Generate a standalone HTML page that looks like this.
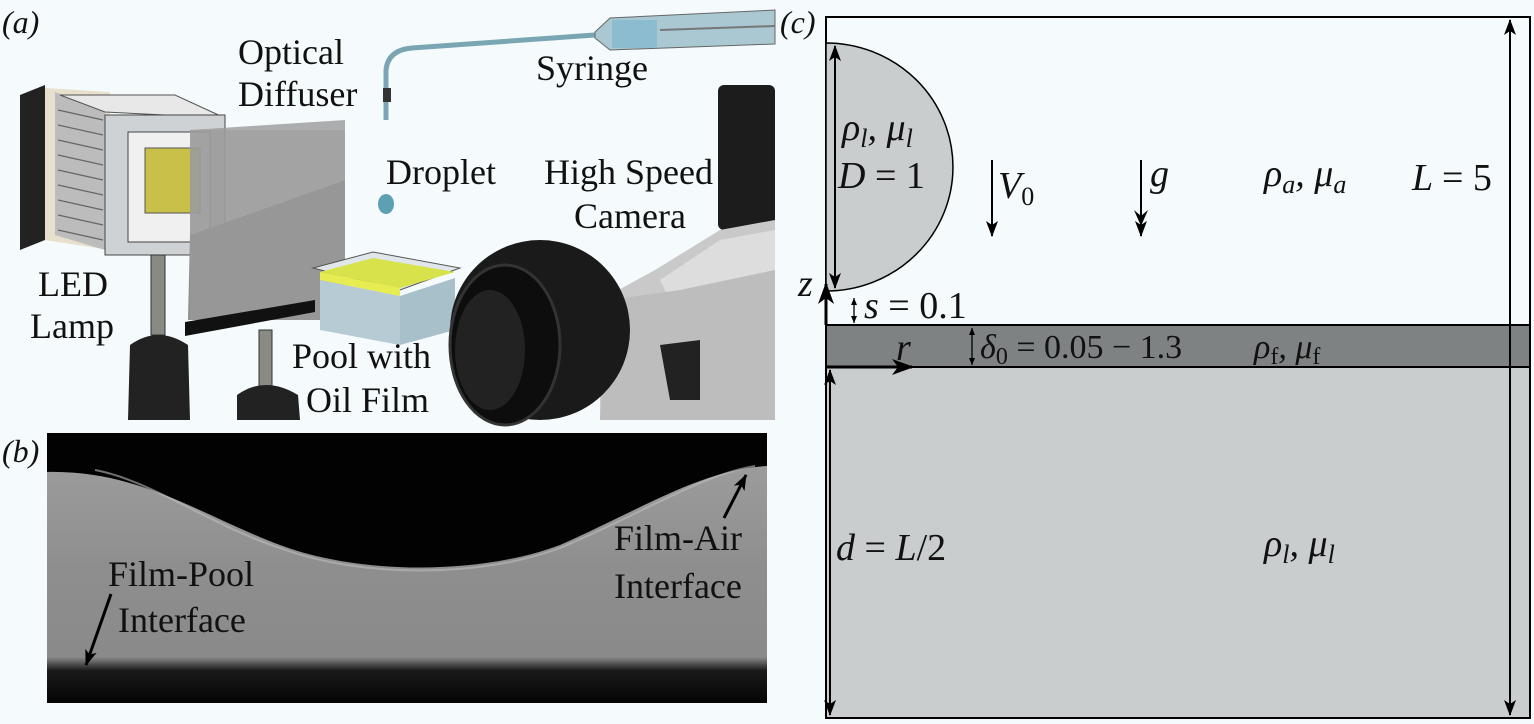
<!DOCTYPE html>
<html><head><meta charset="utf-8"><style>
html,body{margin:0;padding:0;background:#f5fbfc;}
svg{display:block;}
text{font-family:"Liberation Serif",serif;fill:#111;}
</style></head><body>
<svg width="1534" height="724" viewBox="0 0 1534 724" xmlns="http://www.w3.org/2000/svg">
<defs>
<marker id="ahb" markerWidth="22" markerHeight="16" refX="20" refY="8" orient="auto" markerUnits="userSpaceOnUse"><path d="M0,0 L22,8 L0,16 L6,8 Z" fill="#000"/></marker>
<marker id="ahs" markerWidth="16" markerHeight="12" refX="15" refY="6" orient="auto-start-reverse" markerUnits="userSpaceOnUse"><path d="M0,0 L16,6 L0,12 L4,6 Z" fill="#000"/></marker>
<marker id="aht" markerWidth="7" markerHeight="6" refX="7" refY="3" orient="auto-start-reverse" markerUnits="userSpaceOnUse"><path d="M0,0 L7,3 L0,6 Z" fill="#000"/></marker>
<linearGradient id="pg" x1="0" y1="0" x2="0" y2="1">
<stop offset="0" stop-color="#a0a0a0"/><stop offset="0.5" stop-color="#8e8e8e"/><stop offset="0.83" stop-color="#8a8a8a"/><stop offset="0.88" stop-color="#1a1a1a"/><stop offset="1" stop-color="#050505"/></linearGradient>
</defs>

<!-- Panel a -->
<text x="2" y="33" font-size="32" font-style="italic">(a)</text>
<polygon points="20,95 45,85 45,240 20,250" fill="#222"/>
<polygon points="45,88 110,92 110,250 45,240" fill="#e6e0cc"/>
<polygon points="55,92 105,110 105,250 55,235" fill="#bcbcbc"/>
<g stroke="#666" stroke-width="1.2">
<line x1="58" y1="110" x2="103" y2="120"/><line x1="58" y1="125" x2="103" y2="135"/><line x1="58" y1="140" x2="103" y2="150"/><line x1="58" y1="155" x2="103" y2="165"/><line x1="58" y1="170" x2="103" y2="180"/><line x1="58" y1="185" x2="103" y2="195"/><line x1="58" y1="200" x2="103" y2="210"/><line x1="58" y1="215" x2="103" y2="225"/><line x1="58" y1="230" x2="103" y2="240"/></g>
<polygon points="60,95 175,95 225,118 105,112" fill="#e8e8e8" stroke="#555" stroke-width="1"/>
<rect x="105" y="115" width="120" height="140" fill="#cfd2d4" stroke="#444" stroke-width="1"/>
<rect x="128" y="132" width="82" height="110" fill="#f0f0f0" stroke="#444" stroke-width="1"/>
<rect x="145" y="148" width="55" height="65" fill="#c9c04a" stroke="#555"/>
<rect x="151" y="255" width="14" height="80" fill="#8a8a84" stroke="#333"/>
<path d="M130,345 Q158,325 188,345 L190,420 L128,420 Z" fill="#222"/>
<polygon points="190,235 345,180 345,320 188,320" fill="#8e8e8e"/>
<polygon points="190,235 345,180 345,120 190,130" fill="#9a9a9a" opacity="0.8"/>
<rect x="190" y="130" width="155" height="190" fill="#9c9c9c" opacity="0.6"/>
<polygon points="185,322 315,300 315,312 185,336" fill="#111"/>
<rect x="259" y="330" width="13" height="60" fill="#8a8a84" stroke="#333"/>
<path d="M237,395 Q265,375 298,395 L300,420 L237,420 Z" fill="#222"/>
<path d="M386,120 L386,70 Q388,50 412,48 L595,35" stroke="#7aa6b4" stroke-width="5" fill="none"/>
<rect x="383" y="88" width="8" height="14" fill="#333"/>
<polygon points="595,32 610,18 775,10 775,44 610,50 595,38" fill="#a9c8d2" stroke="#666"/>
<rect x="612" y="20" width="45" height="28" fill="#8cbcd0"/>
<line x1="660" y1="30" x2="775" y2="26" stroke="#777" stroke-width="2"/>
<ellipse cx="386" cy="204" rx="8" ry="10" fill="#5d9fb3"/>
<polygon points="313,268 373,252 460,268 400,290" fill="#e0e6ea" stroke="#555"/>
<polygon points="320,272 373,258 455,272 400,288" fill="#d8e24a"/>
<polygon points="320,280 400,296 400,345 320,330" fill="#b6cbd3"/>
<polygon points="400,296 455,278 455,330 400,345" fill="#a8c0ca"/>
<polygon points="320,272 400,288 400,296 320,280" fill="#e7ec50"/>
<rect x="718" y="85" width="57" height="145" rx="6" fill="#1c1c1c"/>
<polygon points="655,270 720,230 775,220 775,420 600,420 600,300" fill="#c9c9c9"/>
<polygon points="660,280 720,240 775,230 775,290 680,320" fill="#ddd"/>
<polygon points="610,300 680,290 775,270 775,420 600,420" fill="#bdbdbd"/>
<path d="M660,345 L700,340 L700,400 L670,400 Z" fill="#222"/>
<circle cx="540" cy="330" r="90" fill="#1a1a1a"/>
<ellipse cx="505" cy="345" rx="55" ry="80" fill="#0d0d0d" stroke="#333" stroke-width="3"/>
<ellipse cx="490" cy="350" rx="35" ry="60" fill="#222"/>
<g font-size="36">
<text x="238" y="64">Optical</text>
<text x="238" y="106">Diffuser</text>
<text x="536" y="80">Syringe</text>
<text x="386" y="184">Droplet</text>
<text x="544" y="184">High Speed</text>
<text x="574" y="228">Camera</text>
<text x="38" y="296">LED</text>
<text x="30" y="338">Lamp</text>
<text x="292" y="368">Pool with</text>
<text x="306" y="412">Oil Film</text>
</g>

<!-- Panel b -->
<text x="2" y="462" font-size="32" font-style="italic">(b)</text>
<rect x="47" y="433" width="720" height="270" fill="url(#pg)"/>
<path d="M47,433 L767,433 L767,466 C700,470 640,510 560,545 C480,575 360,575 280,545 C200,515 140,470 47,472 Z" fill="#020202"/>
<path d="M95,470 C150,480 210,525 280,548 C360,578 480,578 560,548 C640,515 700,475 755,466" stroke="#bcbcbc" stroke-width="2" fill="none" opacity="0.6"/>
<line x1="724" y1="518" x2="746" y2="475" stroke="#000" stroke-width="3" marker-end="url(#ahs)"/>
<line x1="111" y1="594" x2="86" y2="665" stroke="#000" stroke-width="3" marker-end="url(#ahs)"/>
<g font-size="36">
<text x="614" y="550">Film-Air</text>
<text x="614" y="598">Interface</text>
<text x="108" y="586">Film-Pool</text>
<text x="118" y="632">Interface</text>
</g>

<!-- Panel c -->
<text x="780" y="33" font-size="32" font-style="italic">(c)</text>
<rect x="826" y="17" width="704" height="308" fill="#f5fbfc"/>
<rect x="826" y="325" width="704" height="42" fill="#7e8282"/>
<rect x="826" y="367" width="704" height="351" fill="#c9cdcd"/>
<rect x="826" y="17" width="704" height="701" fill="none" stroke="#000" stroke-width="2"/>
<line x1="826" y1="325" x2="1530" y2="325" stroke="#000" stroke-width="2"/>
<line x1="826" y1="367" x2="1530" y2="367" stroke="#000" stroke-width="2"/>
<path d="M826,43 A127,124 0 0 1 826,291 Z" fill="#c9cdcd" stroke="#000" stroke-width="1.5"/>
<line x1="835" y1="46" x2="835" y2="288" stroke="#000" stroke-width="2" marker-start="url(#ahs)" marker-end="url(#ahs)"/>
<line x1="1510" y1="20" x2="1510" y2="715" stroke="#000" stroke-width="2" marker-start="url(#ahs)" marker-end="url(#ahs)"/>
<line x1="830" y1="370" x2="830" y2="715" stroke="#000" stroke-width="2" marker-start="url(#ahs)" marker-end="url(#ahs)"/>
<line x1="992" y1="160" x2="992" y2="236" stroke="#000" stroke-width="2" marker-end="url(#ahs)"/>
<line x1="1141" y1="160" x2="1141" y2="236" stroke="#000" stroke-width="2" marker-end="url(#ahs)"/>
<path d="M1134,210 L1141,226 L1148,210 L1141,216 Z" fill="#000"/>
<line x1="826" y1="325" x2="826" y2="284" stroke="#000" stroke-width="3" marker-end="url(#ahb)"/>
<line x1="826" y1="367" x2="912" y2="367" stroke="#000" stroke-width="3" marker-end="url(#ahb)"/>
<line x1="854" y1="298" x2="854" y2="323" stroke="#000" stroke-width="1.3" marker-start="url(#aht)" marker-end="url(#aht)"/>
<line x1="972" y1="328" x2="972" y2="365" stroke="#000" stroke-width="1.3" marker-start="url(#aht)" marker-end="url(#aht)"/>
<g font-size="38" font-style="italic">
<text x="842" y="140">ρ<tspan font-size="26" dy="7">l</tspan><tspan dy="-7">, μ</tspan><tspan font-size="26" dy="7">l</tspan></text>
<text x="838" y="188">D <tspan font-style="normal">= 1</tspan></text>
<text x="998" y="198">V<tspan font-size="26" dy="7" font-style="normal">0</tspan></text>
<text x="1150" y="186">g</text>
<text x="1264" y="186">ρ<tspan font-size="26" dy="7">a</tspan><tspan dy="-7">, μ</tspan><tspan font-size="26" dy="7">a</tspan></text>
<text x="1412" y="190">L <tspan font-style="normal">= 5</tspan></text>
<text x="798" y="296">z</text>
<text x="864" y="318">s <tspan font-style="normal">= 0.1</tspan></text>
<text x="896" y="360">r</text>
<text x="980" y="358" font-size="34">δ<tspan font-size="24" dy="6" font-style="normal">0</tspan><tspan dy="-6" font-style="normal"> = 0.05 − 1.3</tspan></text>
<text x="1254" y="358" font-size="34">ρ<tspan font-size="24" dy="6" font-style="normal">f</tspan><tspan dy="-6">, μ</tspan><tspan font-size="24" dy="6" font-style="normal">f</tspan></text>
<text x="836" y="560">d <tspan font-style="normal">= </tspan>L<tspan font-style="normal">/2</tspan></text>
<text x="1264" y="556">ρ<tspan font-size="26" dy="7">l</tspan><tspan dy="-7">, μ</tspan><tspan font-size="26" dy="7">l</tspan></text>
</g>
</svg>
</body></html>
